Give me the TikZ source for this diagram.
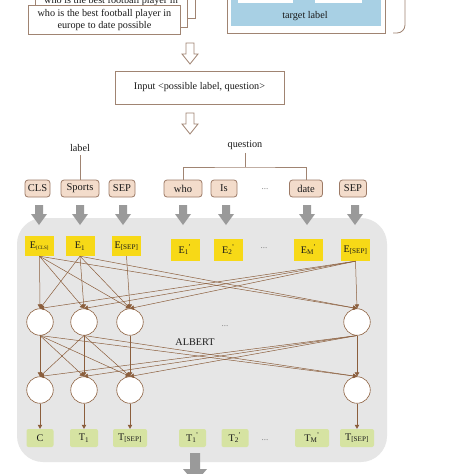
\documentclass[tikz,border=0pt]{standalone}
\usepackage{fontspec}
\setmainfont{Liberation Serif}
\usetikzlibrary{arrows.meta}
\definecolor{brownline}{HTML}{8B5E3C}
\definecolor{boxborder}{HTML}{A08472}
\definecolor{tokfill}{HTML}{F3DCCB}
\definecolor{tokborder}{HTML}{9C7A66}
\definecolor{eyellow}{HTML}{F7D917}
\definecolor{tgreen}{HTML}{D6E3A2}
\definecolor{bggray}{HTML}{E6E6E6}
\definecolor{arrgray}{HTML}{9A9A9A}
\definecolor{lblue}{HTML}{A8D0E4}
\definecolor{txt}{HTML}{1A1A1A}
\newcommand{\tkp}[2]{#1\textsubscript{#2}\kern-0.5pt\textsuperscript{'}}
\begin{document}
\begin{tikzpicture}[x=1pt,y=-1pt,
  font=\fontsize{10.2}{11.5}\selectfont, text=txt,
  textbox/.style={draw=boxborder, fill=white, line width=0.8pt, align=center, inner sep=0pt},
  tok/.style={draw=tokborder, fill=tokfill, rounded corners=3pt, line width=0.8pt, minimum height=17pt, inner sep=1pt, font=\fontsize{10.5}{12}\selectfont},
  emb/.style={fill=eyellow, minimum width=29pt, inner sep=0pt},
  neuron/.style={circle, draw=brownline, fill=white, minimum size=26.5pt, inner sep=0pt, line width=0.6pt},
  outbox/.style={fill=tgreen, rounded corners=2pt, minimum height=18pt, inner sep=0pt},
  conn/.style={draw=brownline, line width=0.5pt, -{Triangle[length=4pt,width=4.5pt]}},
  plain/.style={draw=boxborder, line width=0.8pt},
  dots/.style={text=gray, font=\fontsize{9}{10}\selectfont},
  hollowarrow/.pic={\draw[boxborder, fill=white, line width=0.8pt] (-4,0) -- (4,0) -- (4,11) -- (8,11) -- (0,21) -- (-8,11) -- (-4,11) -- cycle;},
  grayarrow/.pic={\fill[arrgray] (-4,0) -- (4,0) -- (4,9) -- (8,9) -- (0,20) -- (-8,9) -- (-4,9) -- cycle;},
  bigarrow/.pic={\fill[arrgray] (-5,0) -- (5,0) -- (5,16) -- (12,16) -- (0,30) -- (-12,16) -- (-5,16) -- cycle;}
]
\useasboundingbox (0,0) rectangle (474,474);
\clip (0,0) rectangle (474,474);
\fill[white] (0,0) rectangle (474,474);

% top-left stacked question boxes
\node[textbox, minimum width=152pt, minimum height=32pt] (q3) at (119,2) {};
\node[textbox, minimum width=152pt, minimum height=31pt, anchor=north west] (q2) at (35,-4) {};
\node[anchor=base] (q2t) at (111,3) {who is the best football player in};
\node[textbox, minimum width=152pt, minimum height=29pt, anchor=north west] (q1) at (28,5) {who is the best football player in\\europe to date possible};

% top-right target label box
\node[textbox, minimum width=158pt, minimum height=45pt, anchor=south west] (tbox) at (227,34) {};
\fill[lblue] (231,-10) rectangle (381,26);
\fill[white] (238,-10) rectangle (293,3);
\fill[white] (315,-10) rectangle (362,3);
\node (tl) at (305,16) {target label};
\draw[plain, rounded corners=8pt] (405,-5) -- (405,33) -- (393,33);

% hollow arrows and input box
\pic at (190,43) {hollowarrow};
\node[textbox, minimum width=169pt, minimum height=33pt] (inp) at (199.5,87.5) {Input <possible label, question>};
\pic at (190,113) {hollowarrow};

% big gray panel
\fill[bggray, rounded corners=26pt] (17,218) rectangle (387,462);

% labels
\node (lbl) at (80,148) {label};
\node (qst) at (245,145) {question};

% tokens
\node[tok, minimum width=25pt] (tcls) at (37.5,188.5) {CLS};
\node[tok, minimum width=38pt] (tsp) at (80,188.5) {Sports};
\node[tok, minimum width=26pt] (tsep) at (122,188.5) {SEP};
\node[tok, minimum width=38pt] (twho) at (183,188.5) {who};
\node[tok, minimum width=26pt] (tis) at (224,188.5) {Is};
\node[dots] (tdots) at (265,189) {...};
\node[tok, minimum width=33pt] (tdate) at (306,188.5) {date};
\node[tok, minimum width=27pt] (tsepr) at (353,188.5) {SEP};

\draw[plain] (lbl.south) -- (tsp.north);
\coordinate (qj) at (245,167);
\draw[plain] (qst.south) -- (qj);
\draw[plain] (twho.north) |- (qj) -| (tdate.north);

% gray arrows
\foreach \x in {39,80,123,183,226,307,355} \pic at (\x,205) {grayarrow};

% embeddings
\node[emb, minimum height=20pt] (ecls) at (39.5,246) {E\textsubscript{\tiny[CLS]}};
\node[emb, minimum height=20pt] (e1) at (80,246) {E\textsubscript{1}};
\node[emb, minimum height=20pt] (esep) at (126.5,246) {E\textsubscript{[SEP]}};
\node[emb, minimum height=22pt] (e1p) at (185,250) {\tkp{E}{1}};
\node[emb, minimum height=22pt] (e2p) at (228.5,250) {\tkp{E}{2}};
\node[dots] (edots) at (264,248) {...};
\node[emb, minimum height=22pt] (emp) at (308.5,250) {\tkp{E}{M}};
\node[emb, minimum height=22pt] (esepr) at (355.5,250) {E\textsubscript{[SEP]}};

% neurons
\node[neuron] (c1) at (40,322) {};
\node[neuron] (c2) at (84,322) {};
\node[neuron] (c3) at (130,322) {};
\node[neuron] (c4) at (357,322) {};
\node[dots] (cdots) at (225,326) {...};
\node (albert) at (195,342) {ALBERT};
\node[neuron] (d1) at (40,390) {};
\node[neuron] (d2) at (84,390) {};
\node[neuron] (d3) at (130,390) {};
\node[neuron] (d4) at (357,390) {};

% connections layer 1
\foreach \s in {ecls,e1,esepr}
  \foreach \t in {c1,c2,c3,c4}
    \draw[conn] (\s.south) -- (\t.north);
\draw[conn] (esep.south) -- (c3.north);
% connections layer 2
\foreach \s in {c1,c2,c4}
  \foreach \t in {d1,d2,d3,d4}
    \draw[conn] (\s.south) -- (\t.north);
\draw[conn] (c3.south) -- (d3.north);

% outputs
\node[outbox, minimum width=27pt] (oc) at (40,438) {C};
\node[outbox, minimum width=28pt] (o1) at (84,438) {T\textsubscript{1}};
\node[outbox, minimum width=34pt] (osep) at (130,438) {T\textsubscript{[SEP]}};
\node[outbox, minimum width=27pt] (o1p) at (192.5,438) {\tkp{T}{1}};
\node[outbox, minimum width=27pt] (o2p) at (235,438) {\tkp{T}{2}};
\node[dots] (odots) at (265,440) {...};
\node[outbox, minimum width=34pt] (omp) at (312,438) {\tkp{T}{M}};
\node[outbox, minimum width=34pt] (osepr) at (357,438) {T\textsubscript{[SEP]}};

\draw[conn] (d1.south) -- (oc.north);
\draw[conn] (d2.south) -- (o1.north);
\draw[conn] (d3.south) -- (osep.north);
\draw[conn] (d4.south) -- (osepr.north);

\pic at (195,453) {bigarrow};
\end{tikzpicture}
\end{document}
